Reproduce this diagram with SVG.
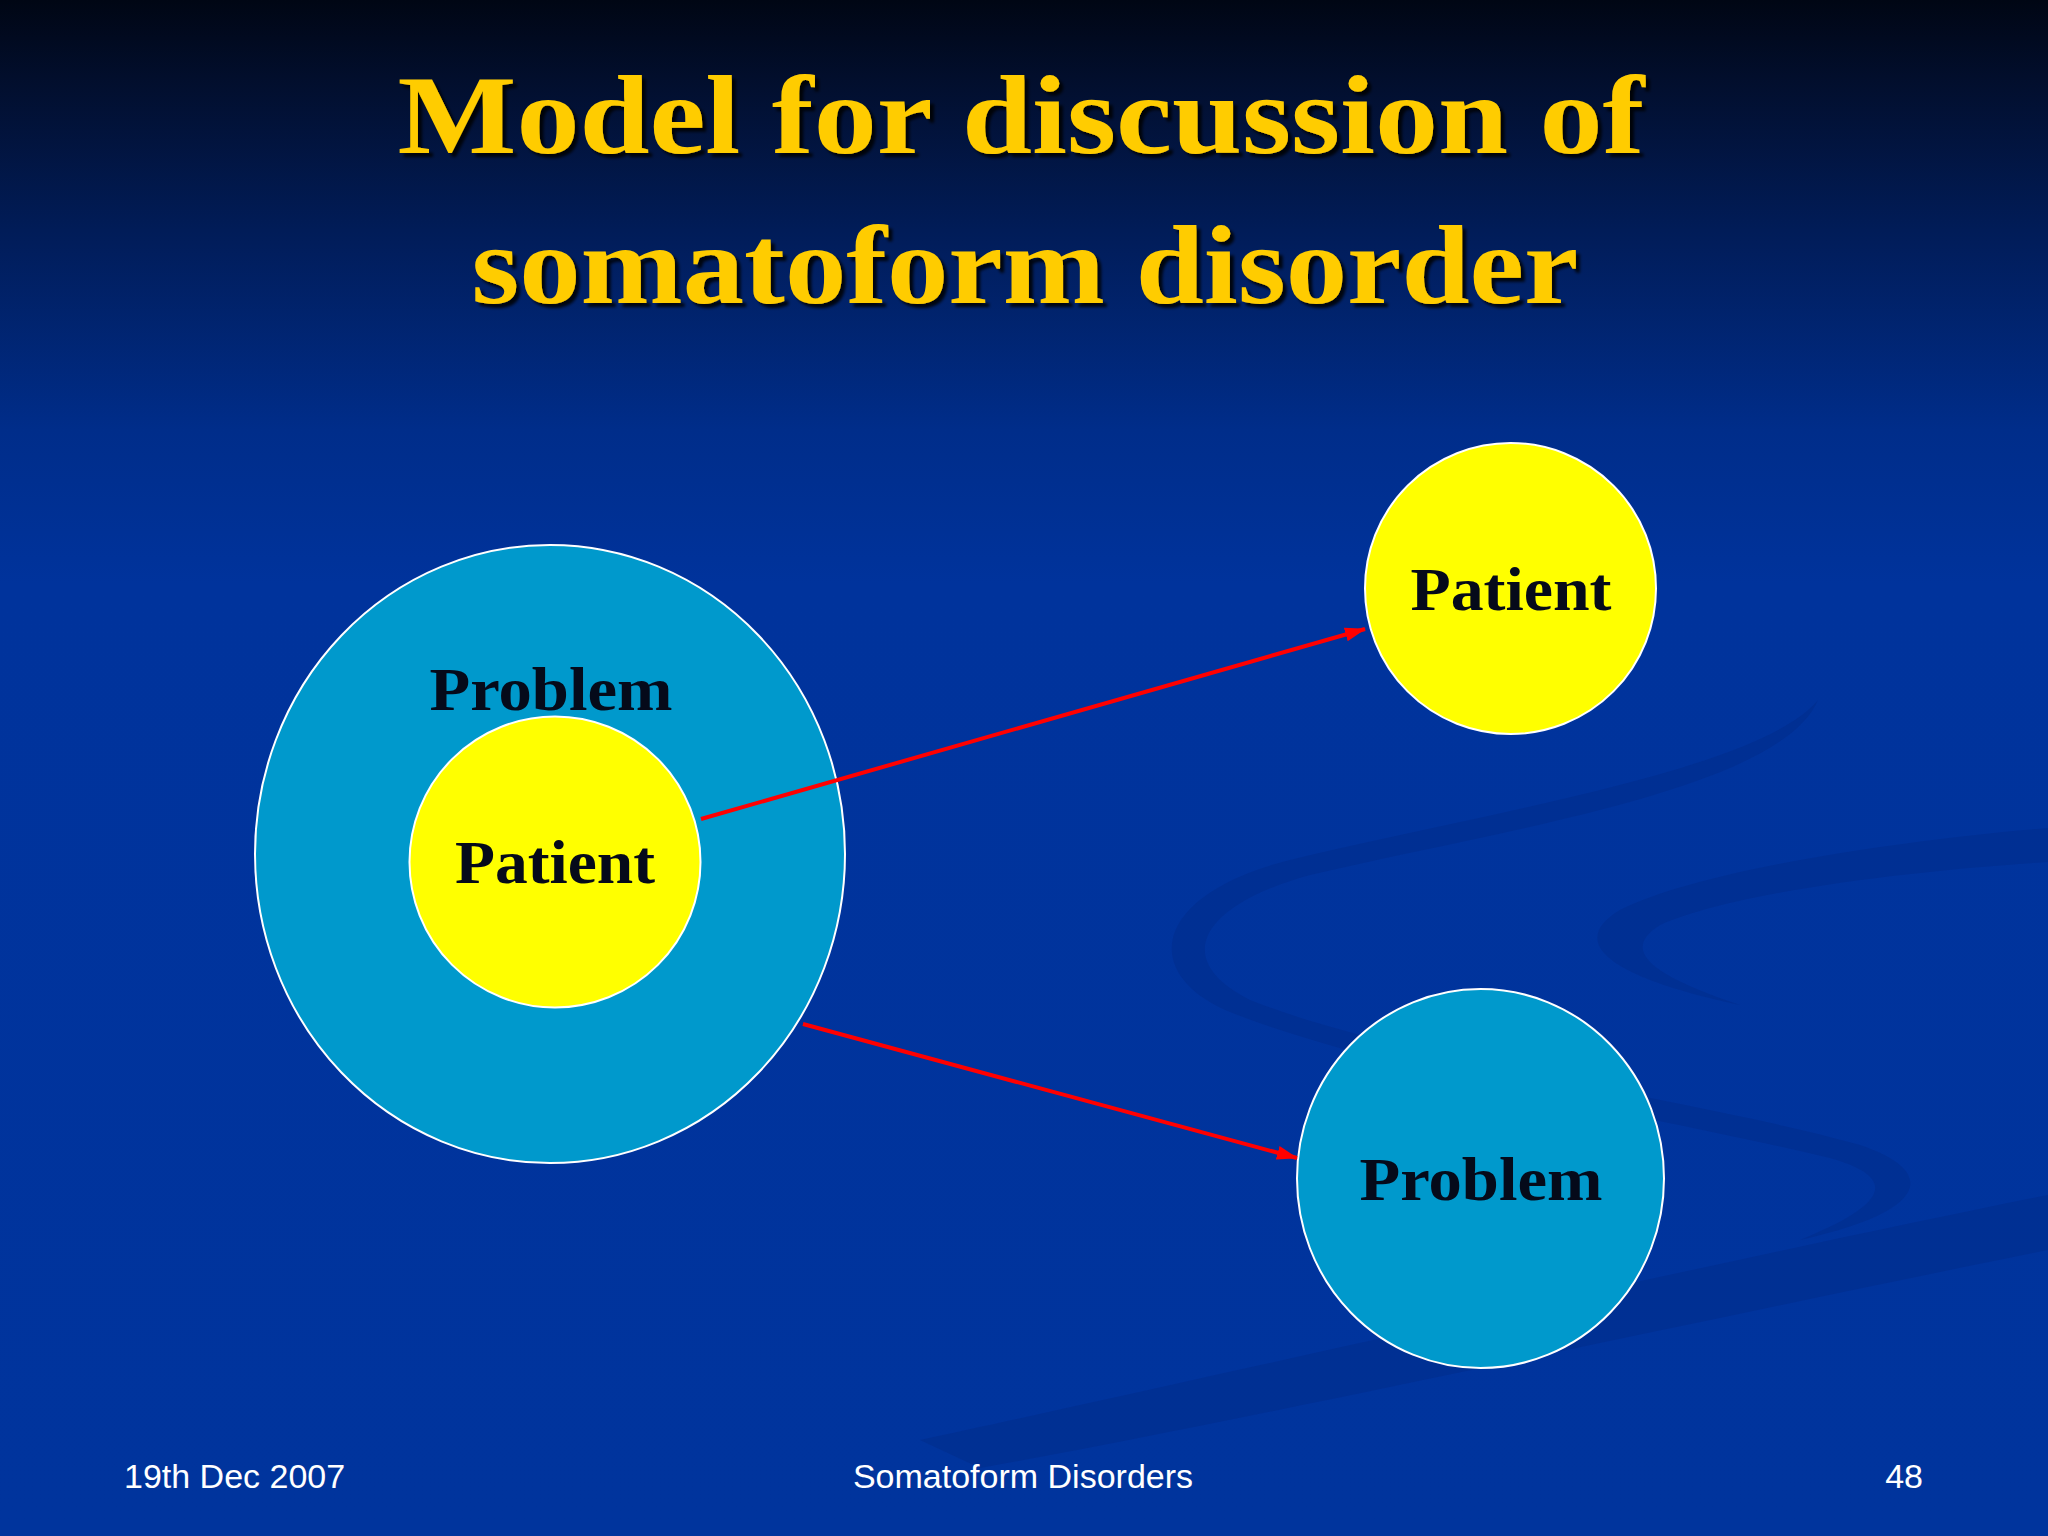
<svg xmlns="http://www.w3.org/2000/svg" width="2048" height="1536" viewBox="0 0 2048 1536">
<defs>
<linearGradient id="bg" x1="0" y1="0" x2="0" y2="1">
<stop offset="0" stop-color="#000614"/>
<stop offset="0.05" stop-color="#020e2c"/>
<stop offset="0.15" stop-color="#011c58"/>
<stop offset="0.28" stop-color="#002d8a"/>
<stop offset="0.38" stop-color="#00339c"/>
<stop offset="1" stop-color="#00349d"/>
</linearGradient>
<filter id="shadow" x="-5%" y="-20%" width="110%" height="140%">
<feDropShadow dx="4" dy="4" stdDeviation="1.5" flood-color="#000000" flood-opacity="0.85"/>
</filter>
<marker id="arrow" markerWidth="22" markerHeight="16" refX="20" refY="8" orient="auto" markerUnits="userSpaceOnUse">
<path d="M0,1 L21,8 L0,15 Z" fill="#ff0000"/>
</marker>
<style>
.title{font-family:"Liberation Serif","Times New Roman",serif;font-weight:bold;font-size:112px;fill:#ffcc00;text-anchor:middle}
.label{font-family:"Liberation Serif","Times New Roman",serif;font-weight:bold;font-size:62px;fill:#050a1a;text-anchor:middle}
.foot{font-family:"Liberation Sans",Arial,sans-serif;font-size:34px;fill:#ffffff}
.blue{fill:#0099cc;stroke:#ffffff;stroke-width:2}
.yellow{fill:#ffff00;stroke:#ffffff;stroke-width:2}
.conn{stroke:#ff0000;stroke-width:4;fill:none;marker-end:url(#arrow)}
.swirl{fill:#002b8a;opacity:0.5}
</style>
</defs>
<rect x="0" y="0" width="2048" height="1536" fill="url(#bg)"/>
<g id="background-swirls">
<path class="swirl" d="M1818,700 C1780,790 1500,830 1310,875 C1200,905 1170,960 1250,1000 C1400,1060 1700,1100 1860,1145 C1935,1170 1935,1210 1800,1240 C1900,1200 1890,1175 1830,1158 C1650,1115 1390,1075 1230,1012 C1140,975 1150,895 1290,860 C1490,812 1760,770 1818,700 Z"/>
<path class="swirl" d="M2048,828 C1900,840 1700,870 1620,910 C1570,940 1600,975 1740,1005 C1650,975 1620,950 1660,925 C1740,890 1920,870 2048,862 Z"/>
<path class="swirl" d="M920,1440 C1200,1380 1700,1265 2048,1195 L2048,1250 C1700,1320 1250,1420 980,1468 Z"/>
</g>
<g id="title">
<text class="title" x="1021" y="153" textLength="1247" lengthAdjust="spacingAndGlyphs" filter="url(#shadow)">Model for discussion of</text>
<text class="title" x="1025" y="303" textLength="1107" lengthAdjust="spacingAndGlyphs" filter="url(#shadow)">somatoform disorder</text>
</g>
<g id="node-problem-outer">
<ellipse class="blue" cx="550" cy="854" rx="295" ry="309"/>
<text class="label" x="551" y="710" textLength="243" lengthAdjust="spacingAndGlyphs">Problem</text>
</g>
<g id="node-patient-inner">
<circle class="yellow" cx="555" cy="862" r="145.5"/>
<text class="label" x="555" y="883" textLength="200" lengthAdjust="spacingAndGlyphs">Patient</text>
</g>
<g id="node-patient">
<circle class="yellow" cx="1510.5" cy="588.5" r="145.5"/>
<text class="label" x="1511" y="610" textLength="201" lengthAdjust="spacingAndGlyphs">Patient</text>
</g>
<g id="node-problem">
<ellipse class="blue" cx="1480.5" cy="1178.5" rx="183.5" ry="189.5"/>
<text class="label" x="1481" y="1200" textLength="243" lengthAdjust="spacingAndGlyphs">Problem</text>
</g>
<g id="connectors">
<line class="conn" x1="701" y1="819" x2="1365" y2="629"/>
<line class="conn" x1="803" y1="1024" x2="1297" y2="1158"/>
</g>
<g id="footer">
<text class="foot" x="124" y="1488">19th Dec 2007</text>
<text class="foot" x="1023" y="1488" text-anchor="middle">Somatoform Disorders</text>
<text class="foot" x="1923" y="1488" text-anchor="end">48</text>
</g>
</svg>
